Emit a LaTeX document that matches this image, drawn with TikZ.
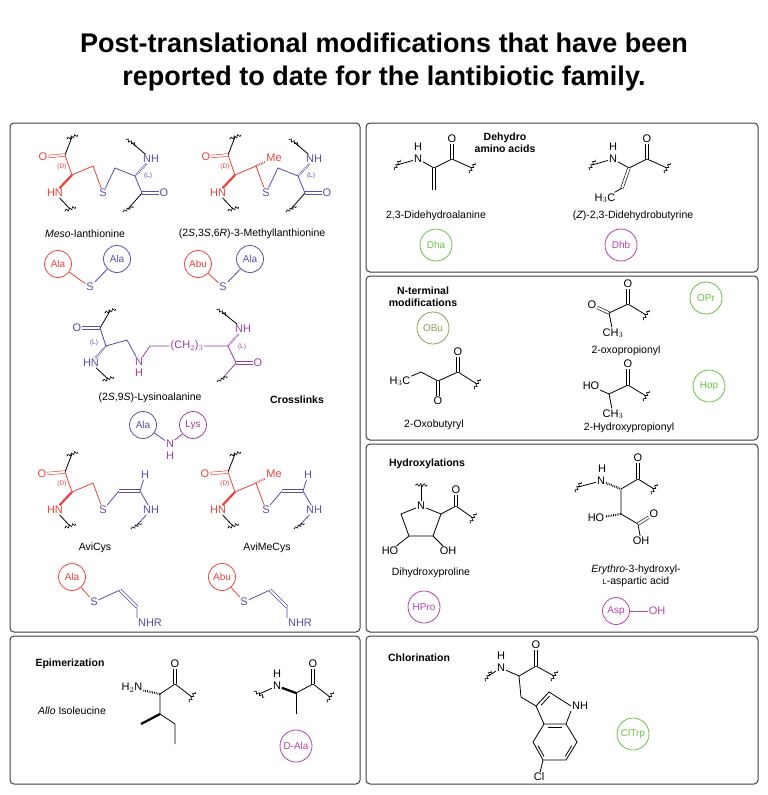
\documentclass[tikz,border=0pt]{standalone}
\usepackage{fontspec}
\setmainfont{Liberation Sans}
\usetikzlibrary{decorations.pathmorphing,calc}
\definecolor{lred}{HTML}{E8453C}
\definecolor{lblue}{HTML}{5A4FA6}
\definecolor{lpurp}{HTML}{9B3FA0}
\definecolor{lmag}{HTML}{B045B0}
\definecolor{lgreen}{HTML}{6CC24A}
\definecolor{lolive}{HTML}{9A9A5A}
\newcommand{\wig}[2]{\draw[wavy] (#1) ++(#2:6pt) -- ++(#2+180:12pt);}

\begin{document}
\begin{tikzpicture}[x=1pt,y=-1pt,line width=0.8pt,
    atm/.style={inner sep=0.6pt,font=\fontsize{11}{11}\selectfont},
    lbl/.style={font=\fontsize{10.5}{12.5}\selectfont,align=center},
    head/.style={font=\bfseries\fontsize{10.5}{12}\selectfont,align=center},
    st/.style={inner sep=0pt,font=\fontsize{6.5}{6.5}\selectfont},
    res/.style={circle,draw,line width=0.8pt,minimum size=27pt,inner sep=0pt,font=\fontsize{10}{10}\selectfont},
    big/.style={res,minimum size=32pt},
    dbl/.style={double,double distance=2pt,line width=0.6pt},
    hsh/.style={line width=2.2pt,dash pattern=on 0.7pt off 1.1pt},
    wdg/.style={line width=2.2pt},
    wavy/.style={decorate,decoration={snake,amplitude=1.3pt,segment length=3.5pt},line width=0.6pt},
    panel/.style={draw=black!75,rounded corners=4pt,line width=1pt}]
\useasboundingbox (0,0) rectangle (768,795);
\fill[white] (0,0) rectangle (768,795);

\node[font=\bfseries\fontsize{27}{33}\selectfont,align=center] (title) at (384,62)
  {Post-translational modifications that have been\\reported to date for the lantibiotic family.};

% frames
\draw[panel] (10,123) rectangle (360,632);
\draw[panel] (10,636) rectangle (360,784);
\draw[panel] (366,123) rectangle (758,272);
\draw[panel] (366,276) rectangle (758,440);
\draw[panel] (366,444) rectangle (758,632);
\draw[panel] (366,636) rectangle (758,784);

% lanthionines
\foreach \p/\dx in {la/0,ml/163}{
  \begin{scope}[xshift=\dx pt]
  \coordinate (\p w1) at (72,137);
  \coordinate (\p C1) at (65,155);
  \node[atm,lred] (\p O1) at (43,157) {O};
  \coordinate (\p Ca) at (72,175);
  \node[atm,lred] (\p HN) at (55,193) {HN};
  \coordinate (\p w2) at (70,209);
  \coordinate (\p Cb) at (93,166);
  \node[atm,lblue] (\p S) at (103,193) {S};
  \coordinate (\p Cc) at (115,168);
  \coordinate (\p Cd) at (135,176);
  \node[atm,lblue] (\p NH) at (151,159) {NH};
  \coordinate (\p w3) at (131,142);
  \coordinate (\p C4) at (142,193);
  \node[atm,lblue] (\p O4) at (164,193) {O};
  \coordinate (\p w4) at (128,209);
  \draw (\p C1) -- (\p w1); \wig{\p w1}{20}
  \draw[lred,dbl] (\p C1) -- (\p O1);
  \draw[lred] (\p C1) -- (\p Ca) -- (\p Cb) -- (\p S);
  \draw[lred,wdg] (\p Ca) -- (\p HN);
  \draw (\p HN) -- (\p w2); \wig{\p w2}{20}
  \draw[lblue] (\p S) -- (\p Cc) -- (\p Cd) -- (\p C4);
  \draw[lblue,hsh] (\p Cd) -- (\p NH);
  \draw (\p NH) -- (\p w3); \wig{\p w3}{-30}
  \draw[lblue,dbl] (\p C4) -- (\p O4);
  \draw (\p C4) -- (\p w4); \wig{\p w4}{30}
  \node[st,lred] (\p dl) at (62,167) {(D)};
  \node[st,lblue] (\p ll) at (148,176) {(L)};
  \end{scope}
}
\node[atm,lred] (mlMe) at (274,158) {Me};
\draw[lred,hsh] (mlCb) -- (mlMe);
\node[lbl] (laname) at (85,234) {\textit{Meso}-lanthionine};
\node[lbl] (mlname) at (252,234) {(2\textit{S},3\textit{S},6\textit{R})-3-Methyllanthionine};
\node[res,lred] (lar1) at (58,264) {Ala};
\node[atm,lblue] (las) at (90,287) {S};
\node[res,lblue] (lar2) at (117,259) {Ala};
\draw[lred] (lar1) -- (las); \draw[lblue] (las) -- (lar2);
\node[res,lred] (mlr1) at (198,264) {Abu};
\node[atm,lblue] (mls) at (223,287) {S};
\node[res,lblue] (mlr2) at (250,259) {Ala};
\draw[lred] (mlr1) -- (mls); \draw[lblue] (mls) -- (mlr2);

% lysinoalanine
\coordinate (lyw1) at (110,311);
\coordinate (lyC1) at (100,328);
\node[atm,lblue] (lyO1) at (77,328) {O};
\coordinate (lyCa) at (106,346);
\node[atm,lblue] (lyHN) at (91,363) {HN};
\coordinate (lyw2) at (108,379);
\coordinate (lyCb) at (127,340);
\node[atm,lpurp] (lyN) at (139,362) {N};
\node[atm,lpurp] (lyNH1) at (139,373) {H};
\coordinate (lyCc) at (150,346);
\node[atm,lpurp] (lych) at (187,346) {(CH$_2$)$_3$};
\coordinate (lyCd) at (228,346);
\node[atm,lpurp] (lyNH) at (243,329) {NH};
\coordinate (lyw3) at (222,312);
\coordinate (lyC4) at (236,363);
\node[atm,lpurp] (lyO4) at (258,363) {O};
\coordinate (lyw4) at (222,379);
\draw (lyC1) -- (lyw1); \wig{lyw1}{20}
\draw[lblue,dbl] (lyC1) -- (lyO1);
\draw[lblue] (lyC1) -- (lyCa) -- (lyCb) -- (lyN);
\draw[lblue,hsh] (lyCa) -- (lyHN);
\draw (lyHN) -- (lyw2); \wig{lyw2}{20}
\draw[lpurp] (lyN) -- (lyCc) -- (lych) -- (lyCd) -- (lyC4);
\draw[lpurp,hsh] (lyCd) -- (lyNH);
\draw (lyNH) -- (lyw3); \wig{lyw3}{-30}
\draw[lpurp,dbl] (lyC4) -- (lyO4);
\draw[lpurp] (lyC4) -- (lyw4); \wig{lyw4}{30}
\node[st,lblue] (lyll1) at (94,343) {(L)};
\node[st,lpurp] (lyll2) at (242,347) {(L)};
\node[lbl] (lyname) at (150,398) {(2\textit{S},9\textit{S})-Lysinoalanine};
\node[head] (cross) at (297,400) {Crosslinks};
\node[res,lblue] (lyr1) at (143,425) {Ala};
\node[atm,lpurp] (lyrN) at (170,444) {N};
\node[atm,lpurp] (lyrH) at (170,456) {H};
\node[res,lpurp] (lyr2) at (193,425) {Lys};
\draw[lblue] (lyr1) -- (lyrN); \draw[lpurp] (lyrN) -- (lyr2);

% avionin
\foreach \p/\dx in {ac/0,am/163}{
  \begin{scope}[xshift=\dx pt]
  \coordinate (\p w1) at (72,454);
  \coordinate (\p C1) at (65,472);
  \node[atm,lred] (\p O1) at (42,474) {O};
  \coordinate (\p Ca) at (72,492);
  \node[atm,lred] (\p HN) at (55,510) {HN};
  \coordinate (\p w2) at (70,526);
  \coordinate (\p Cb) at (93,483);
  \node[atm,lblue] (\p S) at (103,510) {S};
  \coordinate (\p V1) at (119,491);
  \coordinate (\p V2) at (140,491);
  \node[atm,lblue] (\p H) at (145,475) {H};
  \node[atm,lblue] (\p NH) at (151,510) {NH};
  \coordinate (\p w3) at (136,526);
  \draw (\p C1) -- (\p w1); \wig{\p w1}{20}
  \draw[lred,dbl] (\p C1) -- (\p O1);
  \draw[lred] (\p C1) -- (\p Ca) -- (\p Cb) -- (\p S);
  \draw[lred,wdg] (\p Ca) -- (\p HN);
  \draw (\p HN) -- (\p w2); \wig{\p w2}{20}
  \draw[lblue] (\p S) -- (\p V1);
  \draw[lblue,dbl] (\p V1) -- (\p V2);
  \draw[lblue] (\p V2) -- (\p H);
  \draw[lblue] (\p V2) -- (\p NH) -- (\p w3); \wig{\p w3}{30}
  \node[st,lred] (\p dl) at (62,484) {(D)};
  \end{scope}
}
\node[atm,lred] (amMe) at (274,474) {Me};
\draw[lred,hsh] (amCb) -- (amMe);
\node[lbl] (acname) at (95,548) {AviCys};
\node[lbl] (amname) at (267,548) {AviMeCys};
\foreach \p/\dx/\r in {acr/0/Ala,amr/150/Abu}{
  \begin{scope}[xshift=\dx pt]
  \node[res,lred] (\p 1) at (72,577) {\r};
  \node[atm,lblue] (\p S) at (94,602) {S};
  \coordinate (\p V1) at (120,590);
  \coordinate (\p V2) at (137,607);
  \node[atm,lblue] (\p N) at (150,623) {NHR};
  \draw[lred] (\p 1) -- (\p S);
  \draw[lblue] (\p S) -- (\p V1);
  \draw[lblue,dbl] (\p V1) -- (\p V2);
  \draw[lblue] (\p V2) -- (\p N.north west);
  \end{scope}
}

% epimerization
\node[head] (epi) at (70,664) {Epimerization};
\node[lbl] (alloname) at (72,711) {\textit{Allo} Isoleucine};
\node[atm] (aiN) at (132,688) {H$_2$N};
\coordinate (aiCa) at (160,694);
\coordinate (aiC) at (175,684);
\node[atm] (aiO) at (175,664) {O};
\coordinate (aiw) at (192,697);
\coordinate (aiCb) at (160,714);
\coordinate (aiMe) at (141,724);
\coordinate (aiCc) at (175,724);
\coordinate (aiCd) at (175,744);
\draw[hsh] (aiCa) -- (aiN);
\draw (aiCa) -- (aiC) -- (aiw); \wig{aiw}{60}
\draw[dbl] (aiC) -- (aiO);
\draw (aiCa) -- (aiCb) -- (aiCc) -- (aiCd);
\draw[wdg] (aiCb) -- (aiMe);
\coordinate (daw) at (259,694);
\node[atm] (daN) at (277,686) {N};
\node[atm] (daH) at (277,674) {H};
\coordinate (daCa) at (296,693);
\coordinate (daC) at (313,684);
\node[atm] (daO) at (313,664) {O};
\coordinate (daw2) at (330,697);
\coordinate (daMe) at (296,714);
\draw (daw) -- (daN); \wig{daw}{-30}
\draw[wdg] (daN) -- (daCa);
\draw (daCa) -- (daC) -- (daw2); \wig{daw2}{60}
\draw[dbl] (daC) -- (daO);
\draw (daCa) -- (daMe);
\node[big,lmag] (dar) at (296,746) {D-Ala};

% dehydro amino acids
\node[head] (dehy) at (505,143) {Dehydro\\amino acids};
\foreach \p/\dx in {dha/0,dhb/195}{
  \begin{scope}[xshift=\dx pt]
  \coordinate (\p w1) at (397,165);
  \node[atm] (\p N) at (418,159) {N};
  \node[atm] (\p H) at (418,147) {H};
  \coordinate (\p Ca) at (434,168);
  \coordinate (\p C) at (452,159);
  \node[atm] (\p O) at (452,139) {O};
  \coordinate (\p w2) at (472,168);
  \draw (\p w1) -- (\p N); \wig{\p w1}{60}
  \draw (\p N) -- (\p Ca) -- (\p C) -- (\p w2); \wig{\p w2}{60}
  \draw[dbl] (\p C) -- (\p O);
  \end{scope}
}
\coordinate (dhaCH) at (434,190);
\draw[dbl] (dhaCa) -- (dhaCH);
\coordinate (dhbCb) at (622,188);
\node[atm] (dhbMe) at (605,198) {H$_3$C};
\draw[dbl] (dhbCa) -- (dhbCb);
\draw (dhbCb) -- (dhbMe);
\node[lbl] (dhaname) at (436,216) {2,3-Didehydroalanine};
\node[lbl] (dhbname) at (633,216) {(\textit{Z})-2,3-Didehydrobutyrine};
\node[big,lgreen] (dhar) at (436,245) {Dha};
\node[big,lmag] (dhbr) at (621,245) {Dhb};

% N-terminal
\node[head] (nterm) at (423,297) {N-terminal\\modifications};
\node[big,lolive] (obur) at (433,328) {OBu};
\node[big,lgreen] (oprr) at (706,298) {OPr};
\node[big,lgreen] (hopr) at (709,386) {Hop};
% 2-oxobutyryl
\node[atm] (obMe) at (400,381) {H$_3$C};
\coordinate (obC1) at (421,372);
\coordinate (obC2) at (438,381);
\node[atm] (obO2) at (438,401) {O};
\coordinate (obC3) at (458,372);
\node[atm] (obO3) at (458,352) {O};
\coordinate (obw) at (477,384);
\draw (obMe) -- (obC1) -- (obC2) -- (obC3) -- (obw); \wig{obw}{60}
\draw[dbl] (obC2) -- (obO2);
\draw[dbl] (obC3) -- (obO3);
\node[lbl] (obname) at (434,425) {2-Oxobutyryl};
% 2-oxopropionyl
\node[atm] (opO1) at (592,305) {O};
\coordinate (opC1) at (609,313);
\coordinate (opC2) at (628,304);
\node[atm] (opO2) at (628,284) {O};
\coordinate (opw) at (646,315);
\node[atm] (opMe) at (613,333) {CH$_3$};
\draw[dbl] (opO1) -- (opC1);
\draw (opC1) -- (opC2) -- (opw); \wig{opw}{60}
\draw[dbl] (opC2) -- (opO2);
\draw (opC1) -- (opMe);
\node[lbl] (opname) at (626,351) {2-oxopropionyl};
% 2-hydroxypropionyl
\node[atm] (hpO1) at (591,386) {HO};
\coordinate (hpC1) at (609,394);
\coordinate (hpC2) at (628,385);
\node[atm] (hpO2) at (628,364) {O};
\coordinate (hpw) at (646,396);
\node[atm] (hpMe) at (613,414) {CH$_3$};
\draw (hpO1) -- (hpC1) -- (hpC2) -- (hpw); \wig{hpw}{60}
\draw[dbl] (hpC2) -- (hpO2);
\draw (hpC1) -- (hpMe);
\node[lbl] (hpname) at (629,428) {2-Hydroxypropionyl};

% hydroxylations
\node[head] (hydro) at (427,464) {Hydroxylations};
\coordinate (hpw1) at (421,485);
\node[atm] (hpN) at (421,506) {N};
\coordinate (hpC2r) at (441,514);
\coordinate (hpC3) at (433,536);
\coordinate (hpC4) at (409,536);
\coordinate (hpC5) at (401,514);
\coordinate (hpCO) at (456,506);
\node[atm] (hpOO) at (456,490) {O};
\coordinate (hpw2) at (473,518);
\node[atm] (hpHO) at (390,551) {HO};
\node[atm] (hpOH) at (448,551) {OH};
\draw (hpw1) -- (hpN); \wig{hpw1}{0}
\draw (hpN) -- (hpC2r) -- (hpC3) -- (hpC4) -- (hpC5) -- (hpN);
\draw (hpC2r) -- (hpCO) -- (hpw2); \wig{hpw2}{60}
\draw[dbl] (hpCO) -- (hpOO);
\draw (hpC4) -- (hpHO);
\draw (hpC3) -- (hpOH);
\node[lbl] (hpname2) at (431,573) {Dihydroxyproline};
\node[big,lmag] (hprr) at (424,607) {HPro};
% hydroxyaspartate
\coordinate (asw) at (578,487);
\node[atm] (asN) at (601,481) {N};
\node[atm] (asH) at (602,469) {H};
\coordinate (asCa) at (621,489);
\coordinate (asC) at (638,479);
\node[atm] (asO) at (638,458) {O};
\coordinate (asw2) at (654,489);
\coordinate (asCb) at (621,514);
\node[atm] (asHO) at (596,518) {HO};
\coordinate (asC2) at (638,524);
\node[atm] (asO2) at (654,514) {O};
\node[atm] (asOH) at (641,541) {OH};
\draw (asw) -- (asN); \wig{asw}{60}
\draw[hsh] (asN) -- (asCa);
\draw (asCa) -- (asC) -- (asw2); \wig{asw2}{60}
\draw[dbl] (asC) -- (asO);
\draw (asCa) -- (asCb) -- (asC2) -- (asOH);
\draw[hsh] (asCb) -- (asHO);
\draw[dbl] (asC2) -- (asO2);
\node[lbl] (asname) at (636,576) {\textit{Erythro}-3-hydroxyl-\\{\fontsize{7.5}{7.5}\selectfont L}-aspartic acid};
\node[res,lmag] (asr) at (616,611) {Asp};
\node[atm,lmag] (asrOH) at (657,611) {OH};
\draw[lmag] (asr) -- (asrOH);

% chlorination
\node[head] (chlor) at (419,658) {Chlorination};
\coordinate (trw) at (488,676);
\node[atm] (trN) at (501,668) {N};
\node[atm] (trH) at (501,656) {H};
\coordinate (trCa) at (519,676);
\coordinate (trC) at (536,666);
\node[atm] (trO) at (536,645) {O};
\coordinate (trw2) at (554,676);
\coordinate (trCH) at (521,697);
\coordinate (trC3) at (536,706);
\coordinate (trC2) at (549,692);
\node[atm] (trNH) at (580,706) {NH};
\coordinate (trC7a) at (566,724);
\coordinate (trC3a) at (544,724);
\coordinate (trC4) at (533,742);
\coordinate (trC5) at (543,760);
\coordinate (trC6) at (566,760);
\coordinate (trC7) at (577,742);
\node[atm] (trCl) at (539,777) {Cl};
\draw (trw) -- (trN); \wig{trw}{60}
\draw (trN) -- (trCa) -- (trC) -- (trw2); \wig{trw2}{60}
\draw[dbl] (trC) -- (trO);
\draw (trCa) -- (trCH) -- (trC3);
\draw (trC3) -- (trC2) -- (trNH.west) (trNH.south west) -- (trC7a);
\draw (trC3) -- (trC3a) -- (trC4) -- (trC5) -- (trC6) -- (trC7) -- (trC7a) -- (trC3a);
\draw ($(trC3)!0.2!(trC2)+(2.5,2)$) -- ($(trC3)!0.85!(trC2)+(2.5,2)$);
\draw ($(trC4)!0.2!(trC5)+(3,0)$) -- ($(trC4)!0.8!(trC5)+(3,0)$);
\draw ($(trC6)!0.2!(trC7)+(-3,0)$) -- ($(trC6)!0.8!(trC7)+(-3,0)$);
\draw ($(trC7a)!0.2!(trC3a)+(0,3)$) -- ($(trC7a)!0.8!(trC3a)+(0,3)$);
\draw (trC5) -- (trCl);
\node[big,lgreen] (trr) at (633,734) {ClTrp};
\end{tikzpicture}
\end{document}
